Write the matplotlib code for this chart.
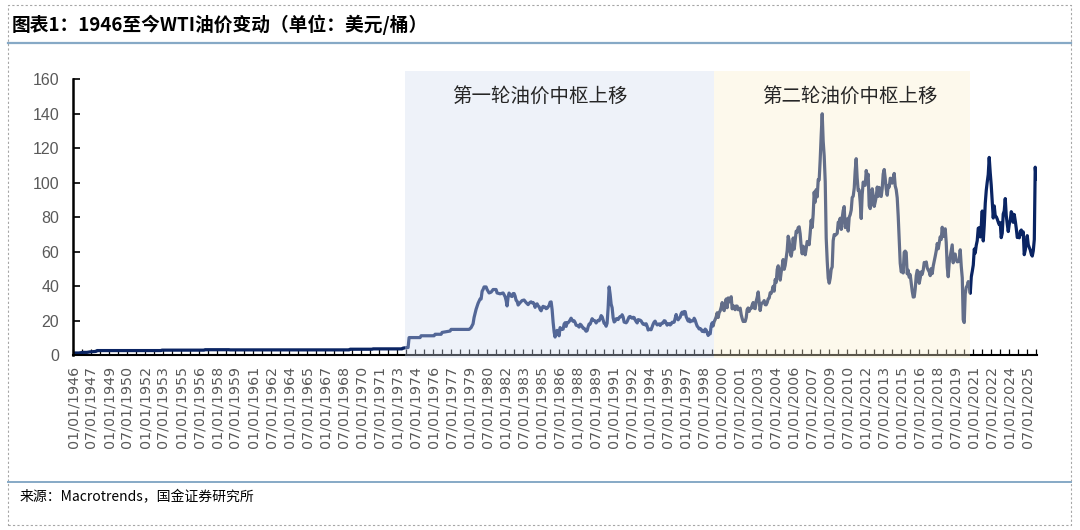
import matplotlib
matplotlib.use("Agg")
import matplotlib.pyplot as plt
import matplotlib.dates as mdates
import pandas as pd
from matplotlib.patches import Rectangle
from matplotlib.lines import Line2D

# ---------------- data (WTI, USD/bbl) ----------------
# 1946-1981: price change points (step era)
early_dates = ["1946-01-01", "1946-07-01", "1946-08-01", "1946-11-01", "1947-03-01",
               "1947-04-01", "1947-06-01", "1947-12-01", "1948-01-01", "1953-05-01",
               "1953-06-01", "1956-12-01", "1957-01-01", "1959-01-01", "1959-02-01",
               "1969-01-01", "1969-02-01", "1970-12-01", "1971-01-01", "1972-12-01",
               "1973-01-01", "1973-06-01", "1973-07-01", "1973-11-01", "1973-12-01",
               "1974-01-01", "1974-12-01", "1975-01-01", "1976-02-01", "1976-03-01",
               "1976-09-01", "1976-10-01", "1977-06-01", "1977-07-01", "1979-01-01",
               "1979-03-01", "1979-05-01", "1979-06-01", "1979-08-01", "1979-10-01",
               "1979-12-01", "1980-01-01", "1980-02-01", "1980-03-01", "1980-04-01",
               "1980-06-01", "1980-07-01", "1980-09-01", "1980-11-01", "1981-01-01",
               "1981-04-01", "1981-05-01", "1981-08-01", "1981-11-01", "1981-12-01"]
early_values = [1.17, 1.17, 1.27, 1.52, 1.52,
                1.62, 1.82, 2.07, 2.57, 2.57,
                2.82, 2.82, 3.07, 3.07, 2.97,
                2.97, 3.35, 3.35, 3.56, 3.56,
                3.56, 3.56, 4.00, 4.31, 4.31,
                10.11, 10.11, 11.16, 11.16, 12.03,
                12.03, 13.10, 13.90, 14.85, 14.85,
                15.85, 18.10, 21.75, 26.50, 30.00,
                32.50, 32.50, 37.00, 38.00, 39.50,
                39.50, 38.00, 36.00, 36.50, 38.00,
                38.00, 36.00, 35.50, 36.00, 35.00]

# 1982-01 onward: monthly closes
wti_1980s = [33.85, 31.56, 28.48, 33.45, 35.93, 35.07, 34.16, 33.95, 35.63, 35.68, 34.15, 31.72,
             31.19, 28.99, 29.68, 30.36, 30.98, 31.59, 31.74, 31.90, 31.11, 30.41, 29.84, 29.24,
             29.98, 30.55, 30.85, 30.26, 30.48, 29.66, 27.66, 29.37, 29.68, 28.47, 28.01, 26.41,
             25.64, 27.32, 28.25, 27.86, 27.84, 26.87, 27.12, 27.99, 28.77, 30.64, 30.81, 26.30,
             18.83, 13.26, 10.42, 13.34, 14.30, 12.78, 11.15, 15.90, 14.77, 15.27, 15.00, 17.94,
             18.75, 16.60, 18.83, 18.73, 19.38, 20.29, 21.37, 20.31, 19.53, 19.86, 18.85, 17.28,
             17.13, 16.80, 16.20, 17.86, 17.42, 16.53, 15.50, 15.52, 14.54, 13.77, 14.14, 16.38,
             18.02, 17.94, 19.48, 21.07, 20.12, 20.05, 19.78, 18.58, 19.59, 20.10, 19.86, 21.10]
wti_1990s = [22.86, 22.11, 20.39, 18.43, 18.20, 16.70, 18.45, 27.31, 39.51, 35.23, 29.51, 27.44,
             21.54, 19.16, 19.63, 20.96, 21.13, 20.56, 21.68, 22.26, 22.23, 23.37, 22.02, 19.12,
             18.90, 18.68, 19.44, 20.85, 22.11, 22.36, 21.78, 21.34, 21.88, 21.69, 20.34, 19.41,
             18.59, 20.53, 20.35, 20.20, 19.78, 18.72, 17.88, 18.00, 17.49, 18.14, 16.70, 14.50,
             15.01, 14.77, 14.66, 16.38, 17.87, 19.06, 19.66, 18.38, 17.45, 17.72, 18.07, 17.16,
             18.04, 18.57, 18.54, 19.90, 19.74, 18.45, 17.33, 18.02, 18.23, 17.43, 17.99, 19.03,
             18.85, 19.09, 21.33, 23.50, 21.17, 20.42, 21.30, 21.90, 23.97, 24.88, 23.71, 25.23,
             25.13, 22.18, 20.97, 19.70, 20.82, 19.26, 19.66, 19.95, 19.80, 21.33, 20.19, 18.33,
             16.72, 16.06, 15.12, 15.35, 14.91, 13.72, 14.17, 13.47, 15.03, 14.46, 13.00, 11.35,
             12.75, 12.27, 16.76, 18.66, 16.84, 19.29, 20.53, 22.10, 24.51, 21.75, 24.59, 25.60]
wti_2000s = [27.64, 30.43, 26.90, 25.74, 29.01, 32.50, 27.43, 33.12, 30.84, 32.70, 33.82, 26.80,
             28.66, 27.39, 26.29, 28.46, 28.37, 26.25, 26.35, 27.20, 23.43, 21.18, 19.44, 19.84,
             19.48, 21.74, 26.31, 27.29, 25.31, 26.86, 27.02, 28.98, 30.45, 27.22, 26.89, 31.20,
             33.51, 36.60, 31.04, 25.80, 29.56, 30.19, 30.54, 31.57, 29.20, 29.11, 30.41, 32.52,
             33.05, 36.16, 35.76, 37.38, 39.88, 37.05, 43.80, 42.12, 49.64, 51.76, 49.13, 43.45,
             48.20, 51.75, 55.40, 49.72, 51.97, 56.50, 60.57, 68.94, 66.24, 59.76, 57.32, 61.04,
             67.92, 61.41, 66.63, 71.88, 71.29, 73.93, 74.40, 70.26, 62.91, 58.73, 63.13, 61.05,
             58.14, 61.79, 65.87, 65.71, 64.01, 70.68, 78.21, 74.04, 81.66, 94.53, 88.71, 95.98,
             91.75, 101.84, 101.58, 113.46, 127.35, 140.00, 124.08, 115.46, 100.64, 67.81, 54.43, 44.60,
             41.68, 44.76, 49.66, 51.12, 66.31, 69.89, 69.45, 69.96, 70.61, 77.00, 77.28, 79.36]
wti_2010s = [72.89, 79.66, 83.76, 86.15, 73.97, 75.63, 78.95, 71.92, 79.97, 81.43, 84.11, 91.38,
             92.19, 96.97, 106.72, 113.93, 102.70, 95.42, 95.70, 88.81, 79.20, 93.19, 100.36, 98.83,
             98.48, 107.07, 103.02, 104.87, 86.53, 84.96, 88.06, 96.47, 92.19, 86.24, 88.91, 91.82,
             97.49, 92.05, 97.23, 93.46, 91.97, 96.56, 105.03, 107.65, 102.33, 96.38, 92.72, 98.42,
             97.49, 102.59, 101.58, 99.74, 102.71, 105.37, 98.17, 95.96, 91.16, 80.54, 66.15, 53.27,
             48.24, 49.76, 47.60, 59.63, 60.30, 59.47, 47.12, 49.20, 45.09, 46.59, 41.65, 37.04,
             33.62, 33.75, 38.34, 45.92, 49.10, 48.33, 41.60, 44.70, 48.24, 46.86, 49.44, 53.72,
             52.81, 54.01, 50.60, 49.33, 48.32, 46.04, 50.17, 47.23, 51.67, 54.38, 57.40, 60.46,
             64.73, 61.64, 64.94, 68.57, 67.04, 74.15, 68.76, 69.80, 73.25, 65.31, 50.93, 45.41,
             53.79, 57.22, 60.14, 63.91, 53.50, 58.47, 58.58, 55.10, 54.07, 54.18, 55.17, 61.06]
wti_2020s = [51.56, 44.76, 20.48, 18.84, 35.49, 39.27, 40.27, 42.61, 40.22, 35.79, 45.34, 48.52,
             52.20, 61.50, 59.16, 63.58, 66.32, 73.47, 73.95, 68.50, 75.03, 83.57, 66.18, 75.21,
             88.15, 95.72, 100.28, 104.69, 114.67, 105.76, 98.62, 89.55, 79.49, 86.53, 80.55, 80.26,
             78.87, 77.05, 75.67, 76.78, 68.09, 70.64, 81.80, 83.63, 90.79, 81.02, 75.96, 71.65,
             75.85, 78.26, 83.17, 81.93, 76.99, 81.54, 77.91, 73.55, 68.17, 69.26, 68.00, 71.72,
             72.53, 69.76, 71.48, 58.21, 60.79, 65.11, 69.26, 64.01, 62.37, 60.98, 58.55, 57.42,
             60.50, 67.00, 109.00, 102.00]

period1 = ("1973-09-01", "1999-05-15")
period2 = ("1999-05-15", "2020-10-08")
period_labels = ["第一轮油价中枢上移", "第二轮油价中枢上移"]

y_ticks = [0, 20, 40, 60, 80, 100, 120, 140, 160]
tick_start, tick_end = "1946-01-01", "2026-04-01"
x_range = ("1946-01-01", "2026-04-15")

title = "图表1：1946至今WTI油价变动（单位：美元/桶）"
source = "来源：Macrotrends，国金证券研究所"

# ---------------- build series ----------------
dates = list(pd.to_datetime(early_dates))
values = list(early_values)
for start, seg in [("1982-01-01", wti_1980s), ("1990-01-01", wti_1990s),
                   ("2000-01-01", wti_2000s), ("2010-01-01", wti_2010s),
                   ("2020-01-01", wti_2020s)]:
    dates += list(pd.date_range(start, periods=len(seg), freq="MS"))
    values += list(seg)
xnum = mdates.date2num(dates)

NAVY = "#0a2463"
CJK = ["Noto Sans CJK SC", "DejaVu Sans"]

fig = plt.figure(figsize=(10.8, 5.3), dpi=100)
fig.patch.set_facecolor("white")

ax = fig.add_axes([73 / 1080, 175 / 530, 963.7 / 1080, 275.7 / 530])
ax.plot(xnum, values, color=NAVY, lw=2.3, solid_joinstyle="round", zorder=2)

ax.set_xlim(mdates.date2num(pd.Timestamp(x_range[0])), mdates.date2num(pd.Timestamp(x_range[1])))
ax.set_ylim(0, 160)

# shaded periods (semi-transparent overlays drawn on top of the line)
for (a, b), col in [(period1, (209 / 255, 220 / 255, 241 / 255)),
                    (period2, (252 / 255, 239 / 255, 204 / 255))]:
    x0 = mdates.date2num(pd.Timestamp(a))
    x1 = mdates.date2num(pd.Timestamp(b))
    ax.add_patch(Rectangle((x0, -1.6), x1 - x0, 166.6, facecolor=col, alpha=0.37,
                           lw=0, clip_on=False, zorder=3))

for s in ["top", "right"]:
    ax.spines[s].set_visible(False)
ax.spines["left"].set_linewidth(1.8)
ax.spines["bottom"].set_linewidth(1.5)
ax.spines["left"].set_color("black")
ax.spines["bottom"].set_color("black")

ax.set_yticks(y_ticks)
ax.set_yticklabels([str(v) for v in y_ticks], family="Liberation Sans", fontsize=11.5, color="#595959")
ax.tick_params(axis="y", direction="in", length=5, width=1.2, pad=10, color="black")

major = pd.date_range(tick_start, "2025-07-01", freq="18MS")
minor = pd.date_range("1946-10-01", tick_end, freq="18MS")
ax.set_xticks(mdates.date2num(major))
ax.set_xticks(mdates.date2num(minor), minor=True)
ax.set_xticklabels([d.strftime("%m/%d/%Y") for d in major], rotation=90,
                   family="DejaVu Sans", fontsize=10.3, color="#595959")
ax.tick_params(axis="x", which="both", direction="in", length=4, width=0.9,
               pad=8, color="black")

# annotations
fig.text(540 / 1080, 1 - 96.7 / 530, period_labels[0], ha="center", va="center",
         fontsize=14, family=CJK, color="#262626", zorder=5)
fig.text(849.7 / 1080, 1 - 96.7 / 530, period_labels[1], ha="center", va="center",
         fontsize=14, family=CJK, color="#262626", zorder=5)

# frame, title, separators, source
fig.patches.append(Rectangle((8 / 1080, 5 / 530), 1063 / 1080, 520 / 530,
                             transform=fig.transFigure, fill=False,
                             edgecolor="#a6a6a6", lw=0.8, ls=(0, (2, 2))))
fig.lines.append(Line2D([8 / 1080, 1071 / 1080], [1 - 43 / 530, 1 - 43 / 530],
                        transform=fig.transFigure, color="#86a9c6", lw=1.6))
fig.lines.append(Line2D([8 / 1080, 1071 / 1080], [1 - 482 / 530, 1 - 482 / 530],
                        transform=fig.transFigure, color="#86a9c6", lw=1.4))
fig.text(12 / 1080, 1 - 25 / 530, title, ha="left", va="center", fontsize=13.5,
         fontweight="bold", family=CJK, color="black")
fig.text(20 / 1080, 1 - 497 / 530, source, ha="left", va="center", fontsize=10,
         family=CJK, color="black")

fig.savefig("out.png", dpi=100)
